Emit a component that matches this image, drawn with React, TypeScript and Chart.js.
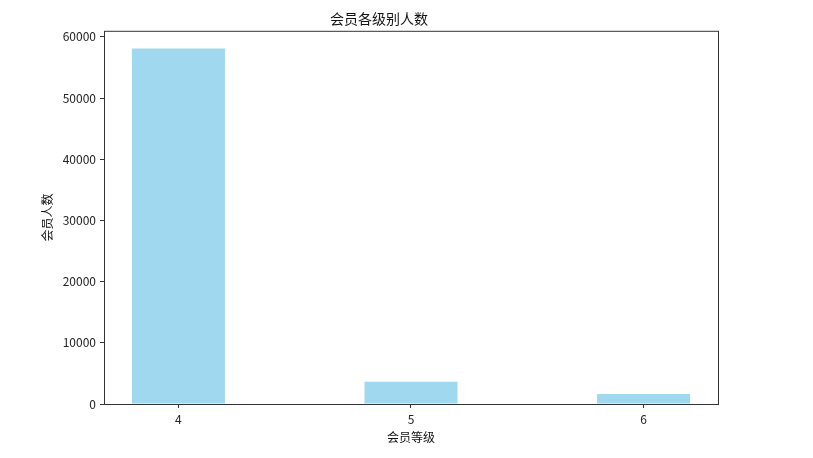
import { useEffect, useRef } from "react"
import { Chart, registerables } from "chart.js"

Chart.register(...registerables)

// 会员等级 / 人数
const levels = [4, 5, 6]
const memberCounts = [58100, 3620, 1620]
const yTicks = [0, 10000, 20000, 30000, 40000, 50000, 60000]

const FONT = "'Noto Sans CJK SC', 'DejaVu Sans', sans-serif"

// matplotlib 风格的四边框
const boxPlugin = {
  id: "axesBox",
  afterDraw(chart: Chart) {
    const { ctx, chartArea } = chart
    ctx.save()
    ctx.strokeStyle = "#333"
    ctx.lineWidth = 1
    ctx.strokeRect(chartArea.left + 0.5, chartArea.top + 0.5, chartArea.right - chartArea.left, chartArea.bottom - chartArea.top)
    ctx.restore()
  },
}

export default function App() {
  const chartRef = useRef<HTMLCanvasElement>(null)
  const chartInstance = useRef<Chart | null>(null)

  useEffect(() => {
    if (!chartRef.current) return
    if (chartInstance.current) chartInstance.current.destroy()

    chartInstance.current = new Chart(chartRef.current, {
      type: "bar",
      data: {
        datasets: [
          {
            label: "会员人数",
            data: levels.map((lv, i) => ({ x: lv, y: memberCounts[i] })),
            backgroundColor: "rgba(135, 206, 235, 0.8)",
            borderWidth: 0,
            categoryPercentage: 1,
            barPercentage: 0.4,
          },
        ],
      },
      options: {
        responsive: false,
        animation: false,
        layout: { padding: { left: 40, right: 95, bottom: 13, top: 0 } },
        plugins: {
          legend: { display: false },
          tooltip: { enabled: false },
          title: {
            display: true,
            text: "会员各级别人数",
            color: "#111",
            font: { family: FONT, size: 14, weight: "normal" },
            padding: { top: 10, bottom: 4 },
          },
        },
        scales: {
          x: {
            type: "linear",
            offset: false,
            min: 3.68,
            max: 6.32,
            afterBuildTicks: (scale) => {
              scale.ticks = levels.map((v) => ({ value: v }))
            },
            afterFit: (scale) => {
              scale.height = 41
            },
            ticks: {
              color: "#222",
              font: { family: FONT, size: 12 },
              padding: 4,
              callback: (v) => String(v),
            },
            grid: { display: true, offset: false, drawOnChartArea: false, drawTicks: true, tickLength: 4, color: "#333" },
            border: { display: false },
            title: {
              display: true,
              text: "会员等级",
              color: "#111",
              font: { family: FONT, size: 12 },
              padding: { top: 0, bottom: 0 },
            },
          },
          y: {
            min: 0,
            max: 61000,
            afterBuildTicks: (scale) => {
              scale.ticks = yTicks.map((v) => ({ value: v }))
            },
            afterFit: (scale) => {
              scale.width = 64
            },
            ticks: {
              color: "#222",
              font: { family: FONT, size: 12 },
              padding: 4,
              callback: (v) => String(v),
            },
            grid: { display: true, drawOnChartArea: false, drawTicks: true, tickLength: 4, color: "#333" },
            border: { display: false },
            title: {
              display: true,
              text: "会员人数",
              color: "#111",
              font: { family: FONT, size: 12 },
              padding: { top: 0, bottom: 0 },
            },
          },
        },
      },
      plugins: [boxPlugin],
    })

    return () => {
      if (chartInstance.current) {
        chartInstance.current.destroy()
        chartInstance.current = null
      }
    }
  }, [])

  return (
    <div style={{ position: "fixed", left: 0, top: 0, width: 813, height: 458, background: "#fff" }}>
      <canvas ref={chartRef} width={813} height={458}></canvas>
    </div>
  )
}
